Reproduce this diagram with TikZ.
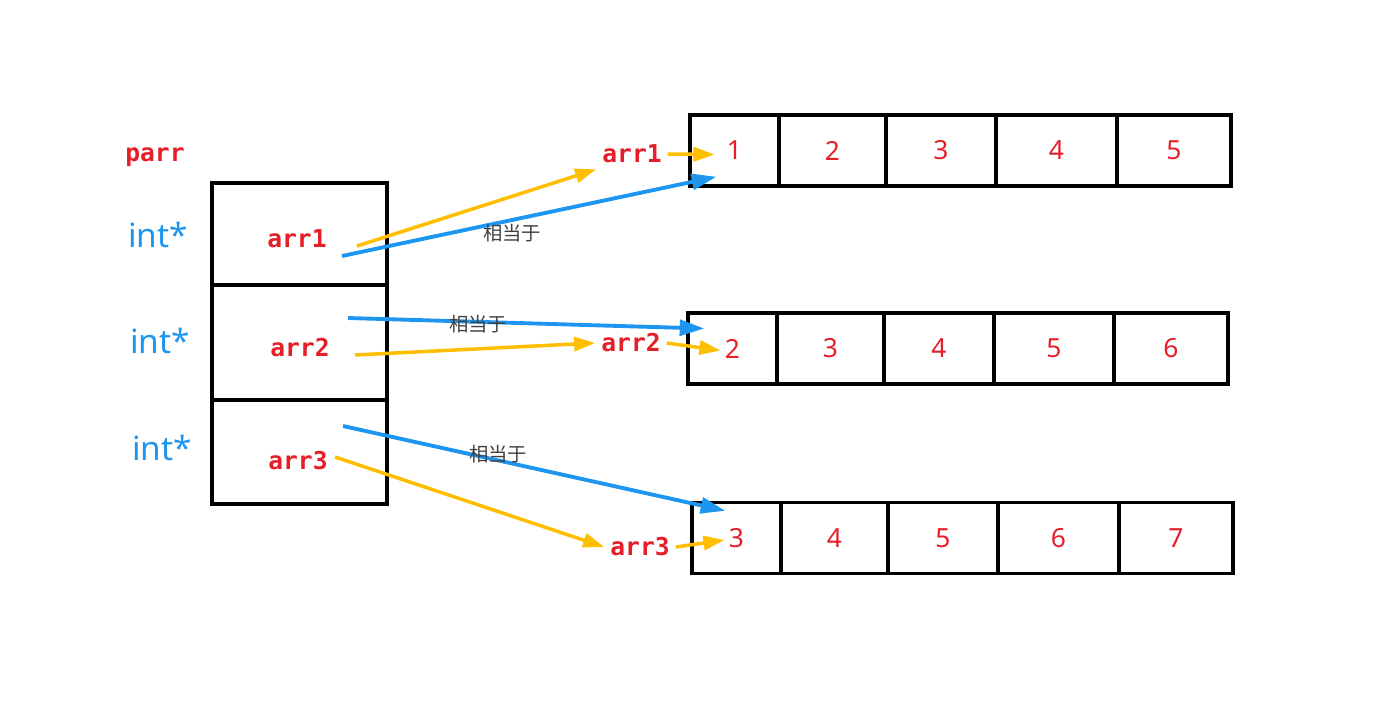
\documentclass[tikz,border=0pt]{standalone}
\usepackage{fontspec}
\setmainfont{Noto Sans}
\newfontfamily\cjk{Noto Sans CJK SC}
\newfontfamily\codefont{DejaVu Sans Mono}
\usepackage{tikz}
\usetikzlibrary{arrows.meta, positioning, calc}

\definecolor{redtxt}{RGB}{230,30,40}
\definecolor{bluetxt}{RGB}{30,150,240}
\definecolor{yel}{RGB}{255,190,0}

\begin{document}
\begin{tikzpicture}[
        x=0.02cm, y=-0.02cm,
        cell/.style={draw, line width=2pt, minimum height=1.42cm, inner sep=0pt, text=redtxt, font=\fontsize{15}{17}\selectfont},
        slot/.style={draw, line width=2pt, minimum width=3.5cm, inner sep=0pt},
        code/.style={text=redtxt, font=\codefont\bfseries\fontsize{14}{16}\selectfont},
        typ/.style={text=bluetxt, font=\fontsize{19}{21}\selectfont},
        note/.style={text=black!75, font=\cjk\fontsize{11}{13}\selectfont},
        yline/.style={yel, line width=2pt, -{Triangle[length=12pt,width=8pt]}},
        bline/.style={bluetxt, line width=2.2pt, -{Triangle[length=14pt,width=9pt]}}
    ]
    \useasboundingbox (0,0) rectangle (1374,710);

    % pointer array
    \node[code] at (155,157) {parr};
    \node[slot, minimum height=2.04cm] (p1) at (299.5,234) {};
    \node[slot, minimum height=2.3cm] (p2) at (299.5,342.5) {};
    \node[slot, minimum height=2.08cm] (p3) at (299.5,452) {};
    \node[code] (n1) at (297,239) {arr1};
    \node[code] (n2) at (300,348) {arr2};
    \node[code] (n3) at (298,461) {arr3};
    \node[typ] at (158,235) {int*};
    \node[typ] at (160,341) {int*};
    \node[typ] at (162,448) {int*};

    % row arrays
    \node[cell, minimum width=1.78cm] (a1) at (734.5,150.5) {1};
    \node[cell, minimum width=2.14cm] (a2) at (832.5,150.5) {2};
    \node[cell, minimum width=2.2cm] (a3) at (941,150.5) {3};
    \node[cell, minimum width=2.42cm] (a4) at (1056.5,150.5) {4};
    \node[cell, minimum width=2.28cm] (a5) at (1174,150.5) {5};

    \node[cell, minimum width=1.78cm] (b1) at (732.5,348.5) {2};
    \node[cell, minimum width=2.14cm] (b2) at (830.5,348.5) {3};
    \node[cell, minimum width=2.2cm] (b3) at (939,348.5) {4};
    \node[cell, minimum width=2.4cm] (b4) at (1054,348.5) {5};
    \node[cell, minimum width=2.28cm] (b5) at (1171,348.5) {6};

    \node[cell, minimum width=1.78cm] (c1) at (736.5,538) {3};
    \node[cell, minimum width=2.14cm] (c2) at (834.5,538) {4};
    \node[cell, minimum width=2.2cm] (c3) at (943,538) {5};
    \node[cell, minimum width=2.42cm] (c4) at (1058.5,538) {6};
    \node[cell, minimum width=2.28cm] (c5) at (1176,538) {7};

    % copied pointers
    \node[code] (q1) at (632,154) {arr1};
    \node[code] (q2) at (631,343) {arr2};
    \node[code] (q3) at (640,547) {arr3};

    \coordinate (s1y) at (357,246);  \coordinate (s1b) at (342,256);
    \coordinate (s2b) at (348,318);  \coordinate (s2y) at (355,355);
    \coordinate (s3b) at (343,426);  \coordinate (s3y) at (335,457);

    % arrows
    \draw[yline] (s1y) -- (q1.south west);
    \draw[yline] (q1.east) -- ($(a1.center)+(-20,4)$);
    \draw[bline] (s1b) -- ($(a1.south west)+(28,-11)$);
    \node[note] at (512,233) {相当于};

    \draw[bline] (s2b) -- ($(b1.west)+(18,-20)$);
    \node[note] at (478,324) {相当于};
    \draw[yline] (s2y) -- (q2.west);
    \draw[yline] (q2.east) -- ($(b1.center)+(-12,2)$);

    \draw[bline] (s3b) -- ($(c1.north west)+(35,10)$);
    \node[note] at (498,454) {相当于};
    \draw[yline] (s3y) -- (q3.west);
    \draw[yline] (q3.east) -- ($(c1.center)+(-12,2)$);

\end{tikzpicture}
\end{document}
